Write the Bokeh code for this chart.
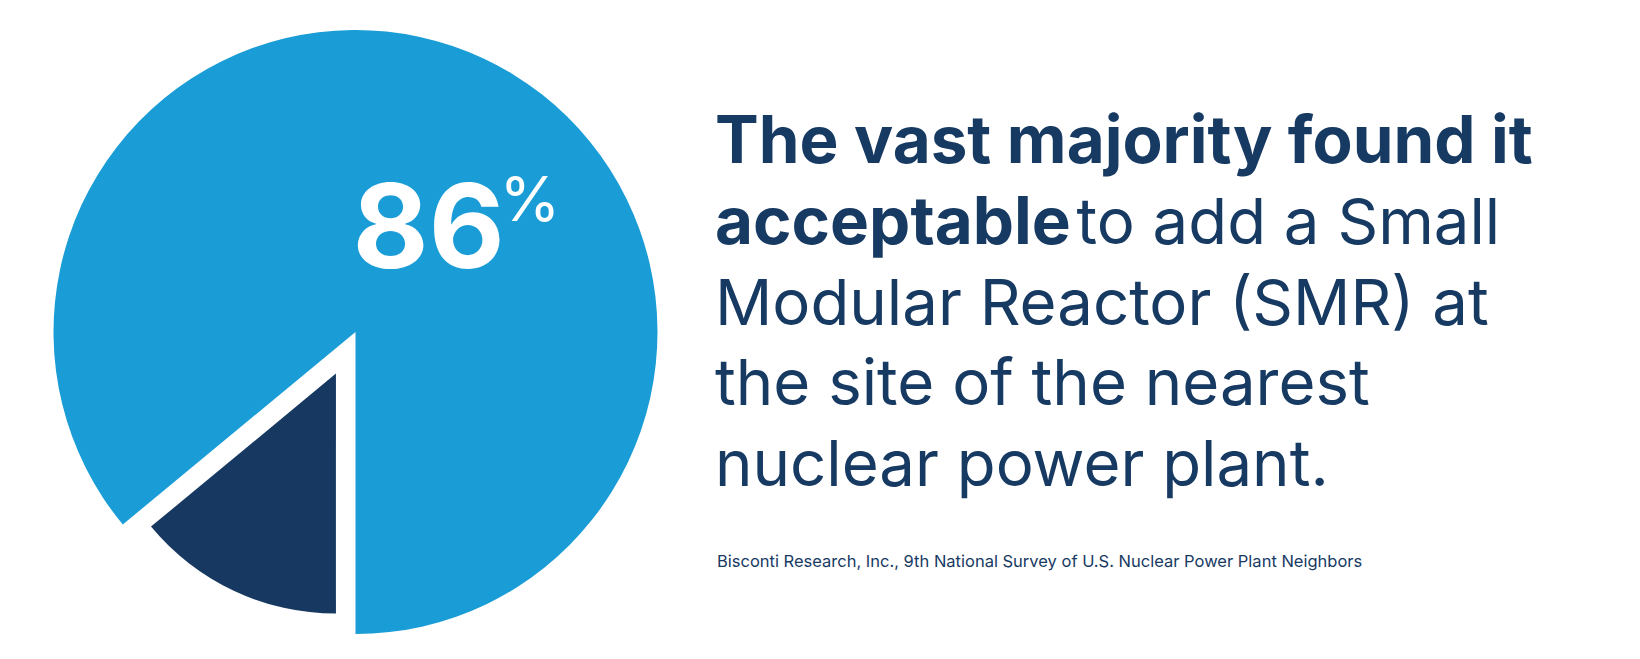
import math
from bokeh.plotting import figure
from bokeh.models import Range1d
from bokeh.core.properties import value
from bokeh.embed import file_html
from bokeh.resources import INLINE

# ---- data ----
categories = ["Acceptable", "Not acceptable"]
shares = [86, 14]
headline_label = "86"
headline_unit = "%"
title_lines = [
    ("The vast majority found it", ""),
    ("acceptable", "to add a Small"),
    ("", "Modular Reactor (SMR) at"),
    ("", "the site of the nearest"),
    ("", "nuclear power plant."),
]
source_note = "Bisconti Research, Inc., 9th National Survey of U.S. Nuclear Power Plant Neighbors"

# ---- style ----
LIGHT = "#1A9DD6"
DARK = "#173961"
NAVY = "#173A63"
FONT = "Inter"

W, H = 1624, 643
PAGE_H = 659


def Y(v):
    return PAGE_H - v


p = figure(width=W, height=H, output_backend="svg", toolbar_location=None,
           x_range=Range1d(8, 8 + W), y_range=Range1d(8, 8 + H),
           min_border=0, outline_line_color=None, background_fill_color="white",
           border_fill_color="white")
p.axis.visible = False
p.grid.visible = False

# pie geometry
cx, cy, r = 363.0, Y(339.5), 302.0
r_small = 240.0
explode = 46.0

total = float(sum(shares))
start = -math.pi / 2
angles = []
for s in shares:
    a0 = start
    a1 = start + 2 * math.pi * s / total
    angles.append((a0, a1))
    start = a1

# big slice
a0, a1 = angles[0]
p.wedge(x=[cx], y=[cy], radius=r, start_angle=[a0], end_angle=[a1],
        direction="anticlock", fill_color=LIGHT, line_color=None)

# exploded small slice
b0, b1 = angles[1]
mid = (b0 + b1) / 2
ox = cx + explode * math.cos(mid)
oy = cy + explode * math.sin(mid)
p.wedge(x=[ox], y=[oy], radius=r_small, start_angle=[b0], end_angle=[b1],
        direction="anticlock", fill_color=DARK, line_color=None)

# 86%
p.text(x=[360], y=[Y(233)], text=[headline_label], text_color="white",
       text_font=value(FONT), text_font_style="bold", text_font_size="117px",
       text_baseline="alphabetic", text_align="left")
p.text(x=[507], y=[Y(206)], text=[headline_unit], text_color="white",
       text_font=value(FONT), text_font_size="62px",
       text_baseline="alphabetic", text_align="left")

# headline text
x0 = 722.5
baselines = [147.2, 228.0, 308.5, 389.0, 469.5]
bold_x, reg_x, bold_y, bold_t, reg_y, reg_t = [], [], [], [], [], []
second_x = {1: 1084}
for i, (b, rtxt) in enumerate(title_lines):
    if b:
        bold_x.append(x0)
        bold_y.append(Y(baselines[i]))
        bold_t.append(b)
    if rtxt:
        reg_x.append(second_x.get(i, x0))
        reg_y.append(Y(baselines[i]))
        reg_t.append(rtxt)

p.text(x=bold_x, y=bold_y, text=bold_t, text_color=NAVY, text_font=value(FONT),
       text_font_style="bold", text_font_size="65.5px", text_baseline="alphabetic")
p.text(x=reg_x, y=reg_y, text=reg_t, text_color=NAVY, text_font=value(FONT),
       text_font_size="63.5px", text_baseline="alphabetic")

p.text(x=[724.5], y=[Y(568)], text=[source_note], text_color=NAVY,
       text_font=value(FONT), text_font_size="16.5px", text_baseline="alphabetic")

open("out.html", "w").write(file_html(p, INLINE))
